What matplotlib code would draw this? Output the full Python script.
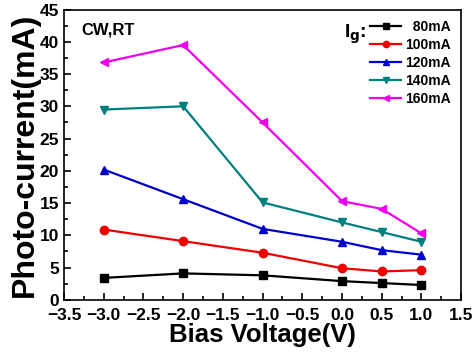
import matplotlib
matplotlib.use("Agg")
import matplotlib.pyplot as plt
from matplotlib.ticker import MultipleLocator

plt.rcParams['font.family'] = ['Liberation Sans', 'DejaVu Sans']
plt.rcParams['font.weight'] = 'bold'

bias = [-3.0, -2.0, -1.0, 0.0, 0.5, 1.0]
i80 = [3.4, 4.1, 3.8, 2.9, 2.6, 2.3]
i100 = [10.9, 9.1, 7.3, 4.9, 4.4, 4.6]
i120 = [20.2, 15.6, 11.0, 9.0, 7.7, 7.0]
i140 = [29.5, 30.0, 15.1, 12.0, 10.5, 9.0]
i160 = [36.8, 39.5, 27.5, 15.3, 14.1, 10.3]
labels = ["  80mA", "100mA", "120mA", "140mA", "160mA"]

series = [i80, i100, i120, i140, i160]
colors = ["black", "#ee0000", "#0000cc", "#007f7f", "#ee00ee"]
markers = ["s", "o", "^", "v", "<"]

fig = plt.figure(figsize=(4.74, 3.54), dpi=100)
ax = fig.add_axes([0.135, 0.153, 0.838, 0.82])

for ys, c, m, lab in zip(series, colors, markers, labels):
    ax.plot(bias, ys, color=c, marker=m, markersize=6, linewidth=1.6, label=lab)

ax.set_xlim(-3.5, 1.5)
ax.set_ylim(0, 45)
ax.xaxis.set_major_locator(MultipleLocator(0.5))
ax.xaxis.set_minor_locator(MultipleLocator(0.25))
ax.yaxis.set_major_locator(MultipleLocator(5))
ax.yaxis.set_minor_locator(MultipleLocator(2.5))
ax.tick_params(which='both', direction='in', top=False, right=False, labelsize=12.5, width=1.2)
ax.tick_params(which='major', length=5)
ax.tick_params(which='minor', length=3)
ax.tick_params(axis='x', pad=6)
for s in ax.spines.values():
    s.set_linewidth(1.2)

ax.set_xlabel("Bias Voltage(V)", fontsize=18.5, fontweight='bold', labelpad=0)
ax.set_ylabel("Photo-current(mA)", fontsize=23, fontweight='bold', labelpad=0)

ax.text(0.045, 0.955, "CW,RT", transform=ax.transAxes, fontsize=12, fontweight='bold', va='top')
ax.text(0.705, 0.955, r"I$_\mathbf{g}$:", transform=ax.transAxes, fontsize=14, fontweight='bold', va='top')

leg = ax.legend(loc='upper right', frameon=False, fontsize=10, handlelength=2.2, markerscale=0.75,
                handletextpad=0.3, labelspacing=0.28, borderaxespad=0.35, bbox_to_anchor=(1.0, 1.0))

fig.savefig("out.png", dpi=100)
